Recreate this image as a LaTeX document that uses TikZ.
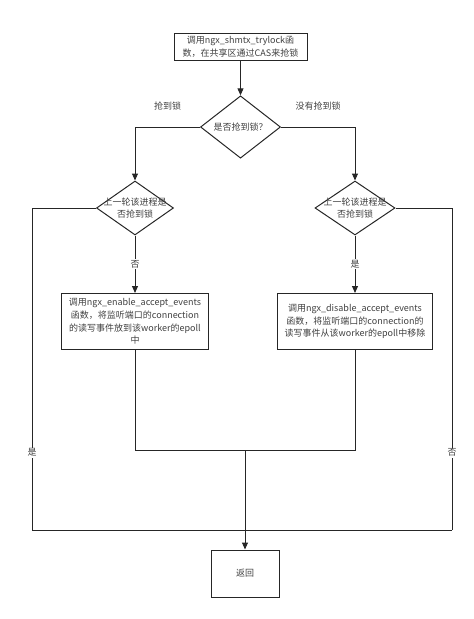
\documentclass[tikz,border=0pt]{standalone}
\usepackage{fontspec}
\setmainfont{Noto Sans CJK SC}
\usepackage{tikz}
\usetikzlibrary{shapes.geometric,arrows.meta}

\begin{document}
\begin{tikzpicture}[x=1pt,y=-1pt,
		line width=1pt, draw=black!85,
		every node/.style={font=\fontsize{9}{12.6}\selectfont, text=black!75, align=center},
		process/.style={rectangle,draw,inner sep=2pt},
		decision/.style={diamond,draw,inner sep=0pt,minimum width=80pt,minimum height=54pt},
		lbl/.style={fill=white,inner sep=1pt},
		arrow/.style={-{Triangle[length=7pt,width=6pt]}}]
	\useasboundingbox (0,0) rectangle (474,619);
	% nodes
	\node[process,minimum width=133pt,minimum height=27pt] (start) at (240.5,46.5)
		{调用ngx\_shmtx\_trylock函\\数，在共享区通过CAS来抢锁};
	\node[decision] (lock) at (240.5,127) {是否抢到锁？};
	\node[decision,minimum width=77pt,label={center:上一轮该进程是\\否抢到锁}] (prev1) at (135,208) {};
	\node[decision,minimum width=80pt,label={center:上一轮该进程是\\否抢到锁}] (prev2) at (355,208) {};
	\node[process,minimum width=147pt,minimum height=56pt] (enable) at (135,321.5)
		{调用ngx\_enable\_accept\_events\\函数，将监听端口的connection\\的读写事件放到该worker的epoll\\中};
	\node[process,minimum width=155pt,minimum height=56pt] (disable) at (355,321.5)
		{调用ngx\_disable\_accept\_events\\函数，将监听端口的connection的\\读写事件从该worker的epoll中移除};
	\node[process,minimum width=68pt,minimum height=47pt] (ret) at (245,573.5) {返回};
	\coordinate (collect) at (245,450);
	\coordinate (joinL) at (32,530);
	\coordinate (joinR) at (452,530);

	% connectors
	\draw[arrow] (start) -- (lock);
	\draw[arrow] (lock.west) -| node[pos=.25,above=13pt]{抢到锁} (prev1.north);
	\draw[arrow] (lock.east) -| node[pos=.25,above=13pt]{没有抢到锁} (prev2.north);
	\draw[arrow] (prev1.south) -- node[lbl]{否} (enable.north);
	\draw[arrow] (prev2.south) -- node[lbl]{是} (disable.north);
	\draw (enable.south) -- (enable.south |- collect) -- (disable.south |- collect) -- (disable.south);
	\draw (prev1.west) -| node[pos=.88,lbl]{是} (joinL) -- (joinR);
	\draw (prev2.east) -| node[pos=.88,lbl]{否} (joinR);
	\draw[arrow] (collect) -- (ret.north);
\end{tikzpicture}
\end{document}
